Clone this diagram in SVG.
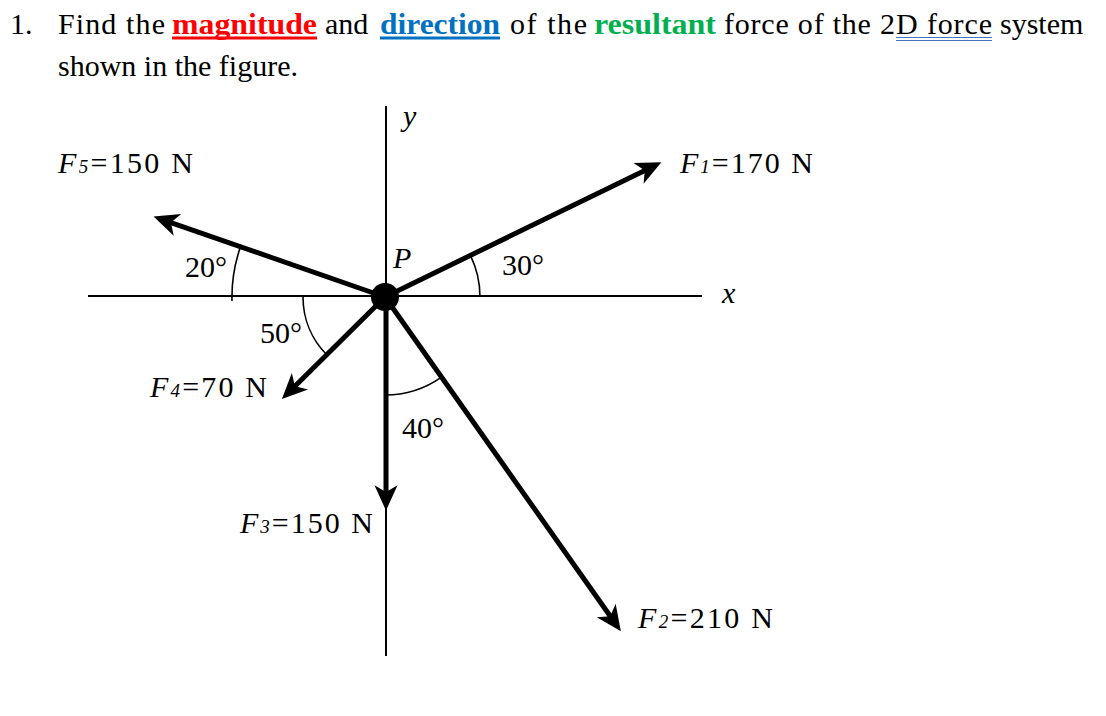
<svg xmlns="http://www.w3.org/2000/svg" width="1106" height="716" viewBox="0 0 1106 716">
<style>
.t{font-family:"Liberation Serif","Times New Roman",serif;font-size:30px;fill:#000}
.b{font-weight:bold}
.lbl{font-family:"Liberation Serif","Times New Roman",serif;font-size:30px;fill:#000}
.it{font-style:italic}
.sub{font-size:19px;font-style:italic}
.axis{stroke:#000;stroke-width:2;fill:none}
.force{stroke:#000;stroke-width:5;fill:none;marker-end:url(#ah)}
.arc{stroke:#000;stroke-width:1.6;fill:none}
</style>
<defs>
<marker id="ah" markerUnits="userSpaceOnUse" markerWidth="30" markerHeight="30" viewBox="-2 -12 26 24" refX="12" refY="0" orient="auto">
<path d="M0,-10 L22,0 L0,10 L6,0 z" fill="#000"/>
</marker>
</defs>
<g id="title">
<text class="t" x="10" y="34">1.</text>
<text class="t" y="34"><tspan x="58" textLength="107" lengthAdjust="spacing">Find the</tspan><tspan x="172" class="b" fill="#FF0000" textLength="145" lengthAdjust="spacingAndGlyphs">magnitude</tspan><tspan x="325">and</tspan><tspan x="380" class="b" fill="#0070C0" textLength="120" lengthAdjust="spacingAndGlyphs">direction</tspan><tspan x="510" textLength="77" lengthAdjust="spacing">of the</tspan><tspan x="594" class="b" fill="#00B050" textLength="122" lengthAdjust="spacingAndGlyphs">resultant</tspan><tspan x="724" textLength="171" lengthAdjust="spacing">force of the 2</tspan><tspan x="896" textLength="96" lengthAdjust="spacing">D force</tspan><tspan x="1000">system</tspan></text>
<text class="t" x="58" y="76">shown in the figure.</text>
<line x1="172" y1="38" x2="317" y2="38" stroke="#FF0000" stroke-width="3"/>
<line x1="380" y1="38" x2="500" y2="38" stroke="#0070C0" stroke-width="3"/>
<line x1="896" y1="37.5" x2="992" y2="37.5" stroke="#4472C4" stroke-width="1.2"/>
<line x1="896" y1="40.5" x2="992" y2="40.5" stroke="#4472C4" stroke-width="1.2"/>
</g>
<g id="axes">
<line class="axis" x1="88" y1="296" x2="702" y2="296"/>
<line class="axis" x1="386" y1="106" x2="386" y2="656"/>
</g>
<g id="connectors">
<line class="force" x1="385" y1="297" x2="651" y2="167.4"/>
<line class="force" x1="385" y1="297" x2="164.4" y2="220.3"/>
<line class="force" x1="385" y1="297" x2="290.1" y2="391"/>
<line class="force" x1="386" y1="297" x2="386" y2="499"/>
<line class="force" x1="385" y1="297" x2="614.2" y2="621.8"/>
</g>
<g id="angle-arcs">
<path class="arc" d="M480,297 A95,95 0 0 0 470.4,255.4"/>
<path class="arc" d="M232,301 A153,153 0 0 1 240.5,246.7"/>
<path class="arc" d="M303,297 A82,82 0 0 0 326.7,354.7"/>
<path class="arc" d="M385,395 A98,98 0 0 0 441.5,377.1"/>
</g>
<g id="P">
<circle cx="385" cy="297" r="14" fill="#000"/>
<text class="lbl it" x="393" y="268">P</text>
</g>
<g id="labels">
<text class="lbl it" x="403" y="126">y</text>
<text class="lbl it" x="722" y="303">x</text>
<text class="lbl" x="502" y="275">30°</text>
<text class="lbl" x="185" y="277">20°</text>
<text class="lbl" x="260" y="343">50°</text>
<text class="lbl" x="402" y="438">40°</text>
</g>
<g id="F1"><text class="lbl" x="680" y="173" textLength="133" lengthAdjust="spacing"><tspan class="it">F</tspan><tspan class="sub">1</tspan>=170 N</text></g>
<g id="F2"><text class="lbl" x="638" y="628" textLength="135" lengthAdjust="spacing"><tspan class="it">F</tspan><tspan class="sub">2</tspan>=210 N</text></g>
<g id="F3"><text class="lbl" x="240" y="533" textLength="133" lengthAdjust="spacing"><tspan class="it">F</tspan><tspan class="sub">3</tspan>=150 N</text></g>
<g id="F4"><text class="lbl" x="150" y="397" textLength="117" lengthAdjust="spacing"><tspan class="it">F</tspan><tspan class="sub">4</tspan>=70 N</text></g>
<g id="F5"><text class="lbl" x="58" y="173" textLength="135" lengthAdjust="spacing"><tspan class="it">F</tspan><tspan class="sub">5</tspan>=150 N</text></g>
</svg>
